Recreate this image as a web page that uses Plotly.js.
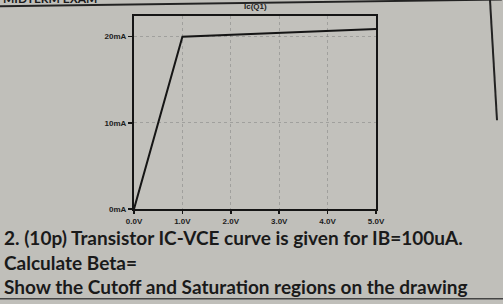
<!DOCTYPE html>
<html>
<head>
<meta charset="utf-8">
<script src="https://cdn.plot.ly/plotly-3.0.1.min.js"></script>
<style>
html,body{margin:0;padding:0;background:#c0bfba;}
#chart{width:503px;height:304px;}
</style>
</head>
<body>
<div id="chart"></div>
<script>
// Data
const vce = [0.0, 1.0, 5.0];          // V
const ic = [0.0, 20.0, 20.9];         // mA
const xTickVals = [0, 1, 2, 3, 4, 5];
const xTickText = ['0.0V', '1.0V', '2.0V', '3.0V', '4.0V', '5.0V'];
const yTickVals = [0, 10, 20];
const yTickText = ['0mA', '10mA', '20mA'];
const traceName = 'Ic(Q1)';
const headerText = 'MIDTERM EXAM';
const questionLines = [
  '2. (10p) Transistor IC-VCE curve is given for IB=100uA.',
  'Calculate Beta=',
  'Show the Cutoff and Saturation regions on the drawing'
];

const tickFont = {family: 'Liberation Sans, Arial, sans-serif', size: 8, color: '#1c1c1c', weight: 'bold'};

const data = [{
  x: vce, y: ic, type: 'scatter', mode: 'lines',
  name: traceName,
  line: {color: '#151515', width: 2}
}];

const qFont = {family: 'Lato, Open Sans, sans-serif', size: 19, color: '#1a1a1a', weight: 'bold'};

const layout = {
  width: 503, height: 304,
  paper_bgcolor: '#c0bfba', plot_bgcolor: '#c2c1bc',
  showlegend: false,
  margin: {l: 134, r: 127, t: 16, b: 95},
  xaxis: {
    range: [0, 5], tickvals: xTickVals, ticktext: xTickText,
    tickfont: tickFont, ticks: 'outside', ticklen: 3, tickwidth: 1.5, tickcolor: '#151515',
    showline: true, linecolor: '#151515', linewidth: 2, mirror: true,
    showgrid: true, gridcolor: 'rgba(110,110,110,0.4)', griddash: 'dot', gridwidth: 1,
    zeroline: false, fixedrange: true
  },
  yaxis: {
    range: [0, 22.4], tickvals: yTickVals, ticktext: yTickText,
    tickfont: tickFont, ticks: 'outside', ticklen: 4, tickwidth: 1.5, tickcolor: '#151515',
    showline: true, linecolor: '#151515', linewidth: 2, mirror: true,
    showgrid: true, gridcolor: 'rgba(110,110,110,0.4)', griddash: 'dot', gridwidth: 1,
    zeroline: false, fixedrange: true
  },
  shapes: [
    {type: 'line', xref: 'paper', yref: 'paper', x0: -0.56, x1: 1.52, y0: 1.05, y1: 1.085, line: {color: '#222', width: 2}},
    {type: 'line', xref: 'paper', yref: 'paper', x0: 1.471, x1: 1.5, y0: 1.085, y1: 0.46, line: {color: '#222', width: 2}},
    {type: 'line', xref: 'paper', yref: 'paper', x0: -0.56, x1: 1.53, y0: -0.465, y1: -0.465, line: {color: '#444', width: 1.5}}
  ],
  annotations: [
    {text: '<b>' + traceName + '</b>', xref: 'paper', yref: 'paper', x: 0.5, y: 1.0, yanchor: 'bottom', xanchor: 'center', showarrow: false,
     font: {family: 'Liberation Sans, Arial, sans-serif', size: 8, color: '#1c1c1c'}, yshift: 3},
    {text: '<b>' + headerText + '</b>', xref: 'paper', yref: 'paper', x: -0.55, y: 1.062, xanchor: 'left', yanchor: 'bottom', showarrow: false,
     font: {family: 'Lato, sans-serif', size: 12, color: '#1a1a1a'}, yshift: -4},
    {text: questionLines.map(s => '<b>' + s + '</b>').join('<br>'), xref: 'paper', yref: 'paper', x: -0.545, y: -0.078, xanchor: 'left', yanchor: 'top', align: 'left', showarrow: false, font: qFont}
  ]
};

Plotly.newPlot('chart', data, layout, {displayModeBar: false, staticPlot: true});
</script>
</body>
</html>
